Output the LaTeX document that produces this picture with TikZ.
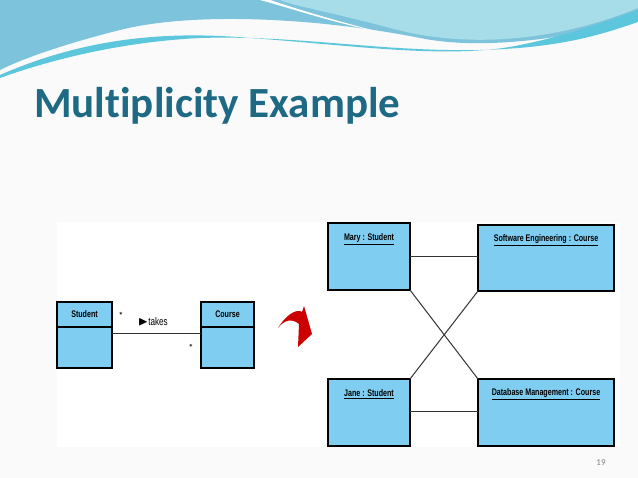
\documentclass[tikz,border=0pt]{standalone}
\usepackage{amssymb}
\usepackage{fontspec}
\setmainfont[Ligatures={NoCommon,NoRequired,NoContextual}]{Carlito}
\newfontfamily\narrow[FakeStretch=0.74]{Liberation Sans}
\begin{document}
\begin{tikzpicture}[x=1pt,y=-1pt,
  box/.style={draw=black,line width=1.3pt,fill=boxblue},
  lbl/.style={font=\narrow\bfseries\fontsize{9.6}{10}\selectfont,inner sep=1pt},
  conn/.style={draw=black!80,line width=1pt}]
\definecolor{boxblue}{HTML}{7FCEF2}
\definecolor{titlecol}{HTML}{1E6A84}
\definecolor{wave1}{HTML}{7CC3DB}
\definecolor{wave2}{HTML}{A6DDE8}
\definecolor{wave3}{HTML}{5CC6DC}
\useasboundingbox (0,0) rectangle (638,478);
\fill[black!2] (0,0) rectangle (638,478);
% header waves
\fill[wave1] (0,0) -- (638,0) -- (638,20) .. controls (560,40) and (480,50) .. (420,38) .. controls (330,20) and (200,10) .. (120,30) .. controls (60,45) and (20,60) .. (0,70) -- cycle;
\fill[wave2] (240,0) -- (638,0) -- (638,8) .. controls (560,40) and (470,50) .. (390,28) .. controls (330,12) and (290,5) .. (280,0) -- cycle;
\fill[white] (270,0) .. controls (300,10) and (340,22) .. (380,32) .. controls (330,22) and (290,8) .. (260,0) -- cycle;
\fill[wave3] (0,75) .. controls (80,40) and (160,30) .. (250,38) .. controls (350,45) and (450,60) .. (520,45) .. controls (570,35) and (610,20) .. (638,10) -- (638,22) .. controls (600,35) and (560,48) .. (480,50) .. controls (380,52) and (300,35) .. (200,38) .. controls (120,42) and (50,60) .. (0,78) -- cycle;
% panel
\fill[white] (57,222) rectangle (620,447);
% class diagram
\draw[box] (57,302) rectangle (112,368);
\draw[line width=1.3pt] (57,327) -- (112,327);
\node[lbl] (stu) at (84.5,314) {Student};
\coordinate (stuR) at (112,334);
\draw[box] (201,302) rectangle (254,368);
\draw[line width=1.3pt] (201,327) -- (254,327);
\node[lbl] (cou) at (227.5,314) {Course};
\coordinate (couL) at (201,334);
\draw[conn] (stuR) -- (couL);
\node[font=\sffamily\scriptsize] (m1) at (121,315) {*};
\node[font=\sffamily\scriptsize] (m2) at (191,347) {*};
\node[font=\narrow\fontsize{11}{11}\selectfont,anchor=west,inner sep=0pt] (takes) at (138,322) {\raisebox{0.3pt}{\fontsize{13}{13}\selectfont$\blacktriangleright$}takes};
% red arrow
\fill[red!80!black] (278,328) .. controls (288,312) and (298,309) .. (302,312) -- (304,306) -- (312,334) -- (298,347) -- (299,324) .. controls (292,318) and (284,320) .. cycle;
% object diagram
\draw[box] (328,223) rectangle (410,290);
\node[lbl] (mary) at (369,239) {\underline{Mary : Student}};
\draw[box] (478,225) rectangle (614,291);
\node[lbl] (se) at (546,240) {\underline{Software Engineering : Course}};
\draw[box] (328,379) rectangle (410,446);
\node[lbl] (jane) at (369,394) {\underline{Jane : Student}};
\draw[box] (478,379) rectangle (614,446);
\node[lbl] (db) at (546,394) {\underline{Database Management : Course}};
\coordinate (a1) at (410,257); \coordinate (a2) at (478,257);
\coordinate (b1) at (410,412); \coordinate (b2) at (478,412);
\draw[conn] (a1) -- (a2);
\draw[conn] (b1) -- (b2);
\draw[conn] (410,290) -- (478,379);
\draw[conn] (410,379) -- (478,291);
% title
\node[anchor=base west,inner sep=0pt,text=titlecol,font=\bfseries\fontsize{43}{46}\selectfont] (title) at (34,118) {Multiplicity Example};
\node[text=black!50,font=\fontsize{9}{10}\selectfont] (pg) at (601,463) {19};
\end{tikzpicture}
\end{document}
